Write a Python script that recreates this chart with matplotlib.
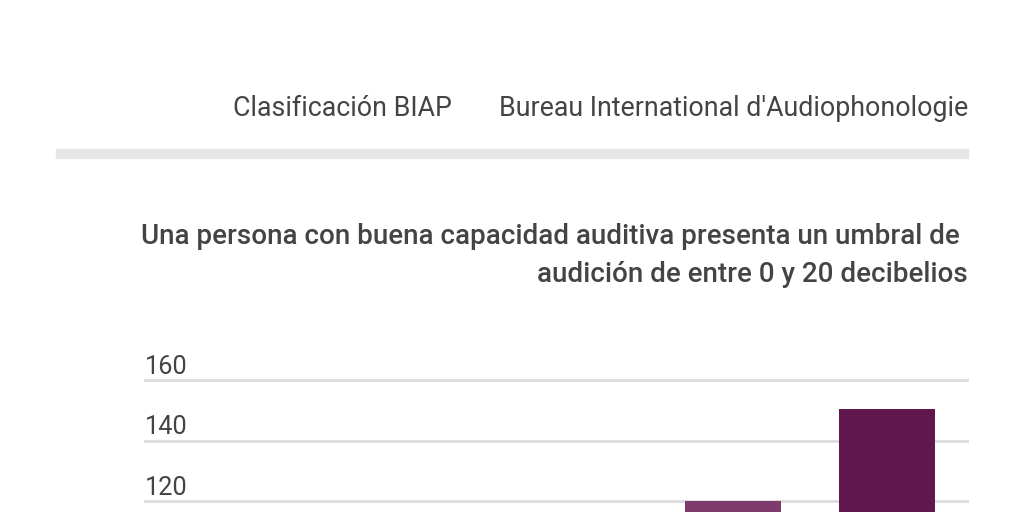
import matplotlib.pyplot as plt
from matplotlib.transforms import blended_transform_factory

plt.rcParams['font.family'] = ['Roboto', 'DejaVu Sans']

# data (BIAP hearing loss levels, upper threshold in dB)
categories = ['Leve', 'Moderada', 'Severa', 'Profunda', 'Cofosis']
values = [40, 70, 90, 120, 150.5]
bar_colors = ['#d9a6c8', '#bd76a6', '#9e5289', '#7f3b6e', '#5f174d']
y_ticks = [120, 140, 160]  # the ones that show in the image

tabs = ['Clasificación BIAP', "Bureau International d'Audiophonologie"]
subtitle_1 = 'Una persona con buena capacidad auditiva presenta un umbral de'
subtitle_2 = 'audición de entre 0 y 20 decibelios'

W, H = 1024, 512
fig = plt.figure(figsize=(W / 100, H / 100), dpi=100)
fig.patch.set_facecolor('white')

# plot area runs past the bottom of the image (only the top is visible)
top_px, px_per_unit = 380.5, 60.5 / 20
bottom_px = top_px + 160 * px_per_unit
left_px, right_px = 194, 964
ax = fig.add_axes([left_px / W, 1 - bottom_px / H,
                   (right_px - left_px) / W, (bottom_px - top_px) / H])
ax.set_ylim(0, 160)
ax.set_xlim(-0.5, len(categories) - 0.5)
for s in ax.spines.values():
    s.set_visible(False)
ax.set_xticks([])
ax.set_yticks([])

grid_start = (145 - left_px) / (right_px - left_px)
grid_end = (967 - left_px) / (right_px - left_px)
trans = blended_transform_factory(ax.transAxes, ax.transData)
for t in y_ticks:
    ax.axhline(t, xmin=grid_start, xmax=grid_end, color='#dcdcdc', lw=2,
               clip_on=False, zorder=0)
    ax.text(grid_start, t + 4.5, str(t), transform=trans, ha='left',
            va='center', fontsize=18.2, color='#444444', clip_on=False)

ax.bar(range(len(categories)), values, width=0.617, color=bar_colors,
       zorder=2)

# header tabs
fig.text(452 / W, 1 - 109 / H, tabs[0], ha='right', va='center',
         fontsize=19.3, color='#444444')
fig.text(968 / W, 1 - 109 / H, tabs[1], ha='right', va='center',
         fontsize=19.3, color='#444444')
fig.patches.append(plt.Rectangle((56 / W, 1 - 158 / H), (968 - 56) / W, 9 / H,
                                 transform=fig.transFigure, color='#e6e6e6'))

# subtitle
fig.text(960 / W, 1 - 237 / H, subtitle_1, ha='right', va='center',
         fontsize=20, fontweight='medium', color='#444444')
fig.text(968 / W, 1 - 275 / H, subtitle_2, ha='right', va='center',
         fontsize=20, fontweight='medium', color='#444444')

fig.savefig('out.png', dpi=100)
